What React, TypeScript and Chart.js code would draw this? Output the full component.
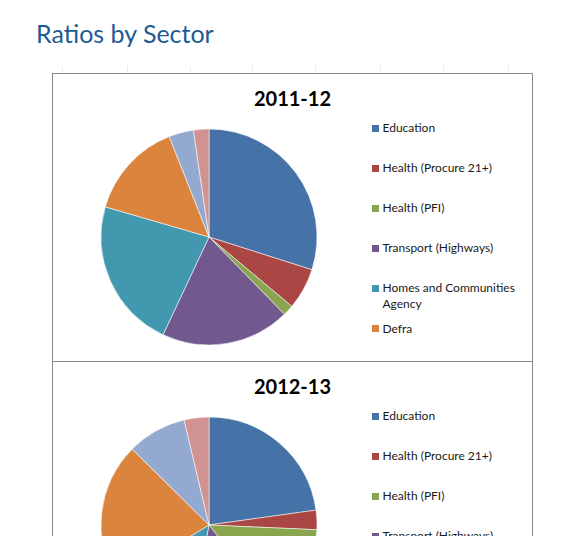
import React, { useEffect, useRef } from "react";
import { Chart, registerables } from "chart.js";

Chart.register(...registerables);

// ---------- data ----------
const pageTitle = "Ratios by Sector";
const years = ["2011-12", "2012-13"];
const sectors = [
  "Education",
  "Health (Procure 21+)",
  "Health (PFI)",
  "Transport (Highways)",
  "Homes and Communities Agency",
  "Defra",
  "Other sector 1",
  "Other sector 2",
];
const sectorColors = [
  "#4572A7",
  "#AA4643",
  "#89A54E",
  "#71588F",
  "#4198AF",
  "#DB843D",
  "#93A9CF",
  "#D19392",
];
const shares2011_12 = [29.9, 6.2, 1.6, 19.3, 22.5, 14.5, 3.7, 2.3];
const shares2012_13 = [22.8, 2.9, 13.6, 13.8, 13.2, 21.1, 8.9, 3.7];
const seriesByYear = [shares2011_12, shares2012_13];
const legendVisibleCount = 6;

// ---------- layout constants ----------
const PANEL_LEFT = 52;
const PANEL_TOP = 73;
const PANEL_W = 481;
const PANEL_H = 289;
const PIE_RADIUS = 108;

function PieCanvas({ values }: { values: number[] }) {
  const ref = useRef<HTMLCanvasElement | null>(null);
  useEffect(() => {
    if (!ref.current) return;
    const chart = new Chart(ref.current, {
      type: "pie",
      data: {
        labels: sectors,
        datasets: [
          {
            data: values,
            backgroundColor: sectorColors,
            borderColor: "rgba(255,255,255,0.55)",
            borderWidth: 1,
            radius: PIE_RADIUS,
          } as any,
        ],
      },
      options: {
        responsive: false,
        animation: false,
        layout: { padding: 0 },
        plugins: {
          legend: { display: false },
          title: { display: false },
          tooltip: { enabled: false },
        },
      },
    });
    return () => chart.destroy();
  }, [values]);
  return (
    <canvas
      ref={ref}
      width={240}
      height={240}
      style={{ position: "absolute", left: 36, top: 43, width: 240, height: 240 }}
    />
  );
}

function Legend() {
  return (
    <div style={{ position: "absolute", left: 319, top: 46, width: 160 }}>
      {sectors.slice(0, legendVisibleCount).map((name, i) => (
        <div
          key={name}
          style={{
            position: "absolute",
            left: 0,
            top: i * 40.1,
            width: 150,
            fontSize: 12,
            lineHeight: "16px",
            color: "#1a1a1a",
          }}
        >
          <span
            style={{
              position: "absolute",
              left: 0,
              top: 4.5,
              width: 7,
              height: 7,
              background: sectorColors[i],
            }}
          />
          <div style={{ marginLeft: 10.5, width: 138 }}>{name}</div>
        </div>
      ))}
    </div>
  );
}

export default function App() {
  const marks = [62, 127, 190, 252, 315, 380, 443, 508];
  return (
    <div
      style={{
        position: "fixed",
        left: 0,
        top: 0,
        width: 574,
        height: 536,
        overflow: "hidden",
        background: "#ffffff",
        fontFamily: "Lato, 'Open Sans', sans-serif",
      }}
    >
      <div
        style={{
          position: "absolute",
          left: 36,
          top: 18,
          fontSize: 25,
          lineHeight: "30px",
          color: "#1D5B94",
          whiteSpace: "nowrap",
        }}
      >
        {pageTitle}
      </div>
      {marks.map((x) => (
        <div
          key={x}
          style={{
            position: "absolute",
            left: x,
            top: 66,
            width: 1,
            height: 6,
            background: "#ececec",
          }}
        />
      ))}
      {years.map((year, i) => (
        <div
          key={year}
          style={{
            position: "absolute",
            left: PANEL_LEFT,
            top: PANEL_TOP + (PANEL_H - 1) * i,
            width: PANEL_W,
            height: PANEL_H,
            border: "1px solid #8a8a8a",
            boxSizing: "border-box",
            overflow: "hidden",
          }}
        >
          <div
            style={{
              position: "absolute",
              left: 0,
              right: 0,
              top: 12,
              textAlign: "center",
              fontWeight: 700,
              fontSize: 20,
              lineHeight: "24px",
              color: "#000000",
            }}
          >
            {year}
          </div>
          <PieCanvas values={seriesByYear[i]} />
          <Legend />
        </div>
      ))}
    </div>
  );
}
